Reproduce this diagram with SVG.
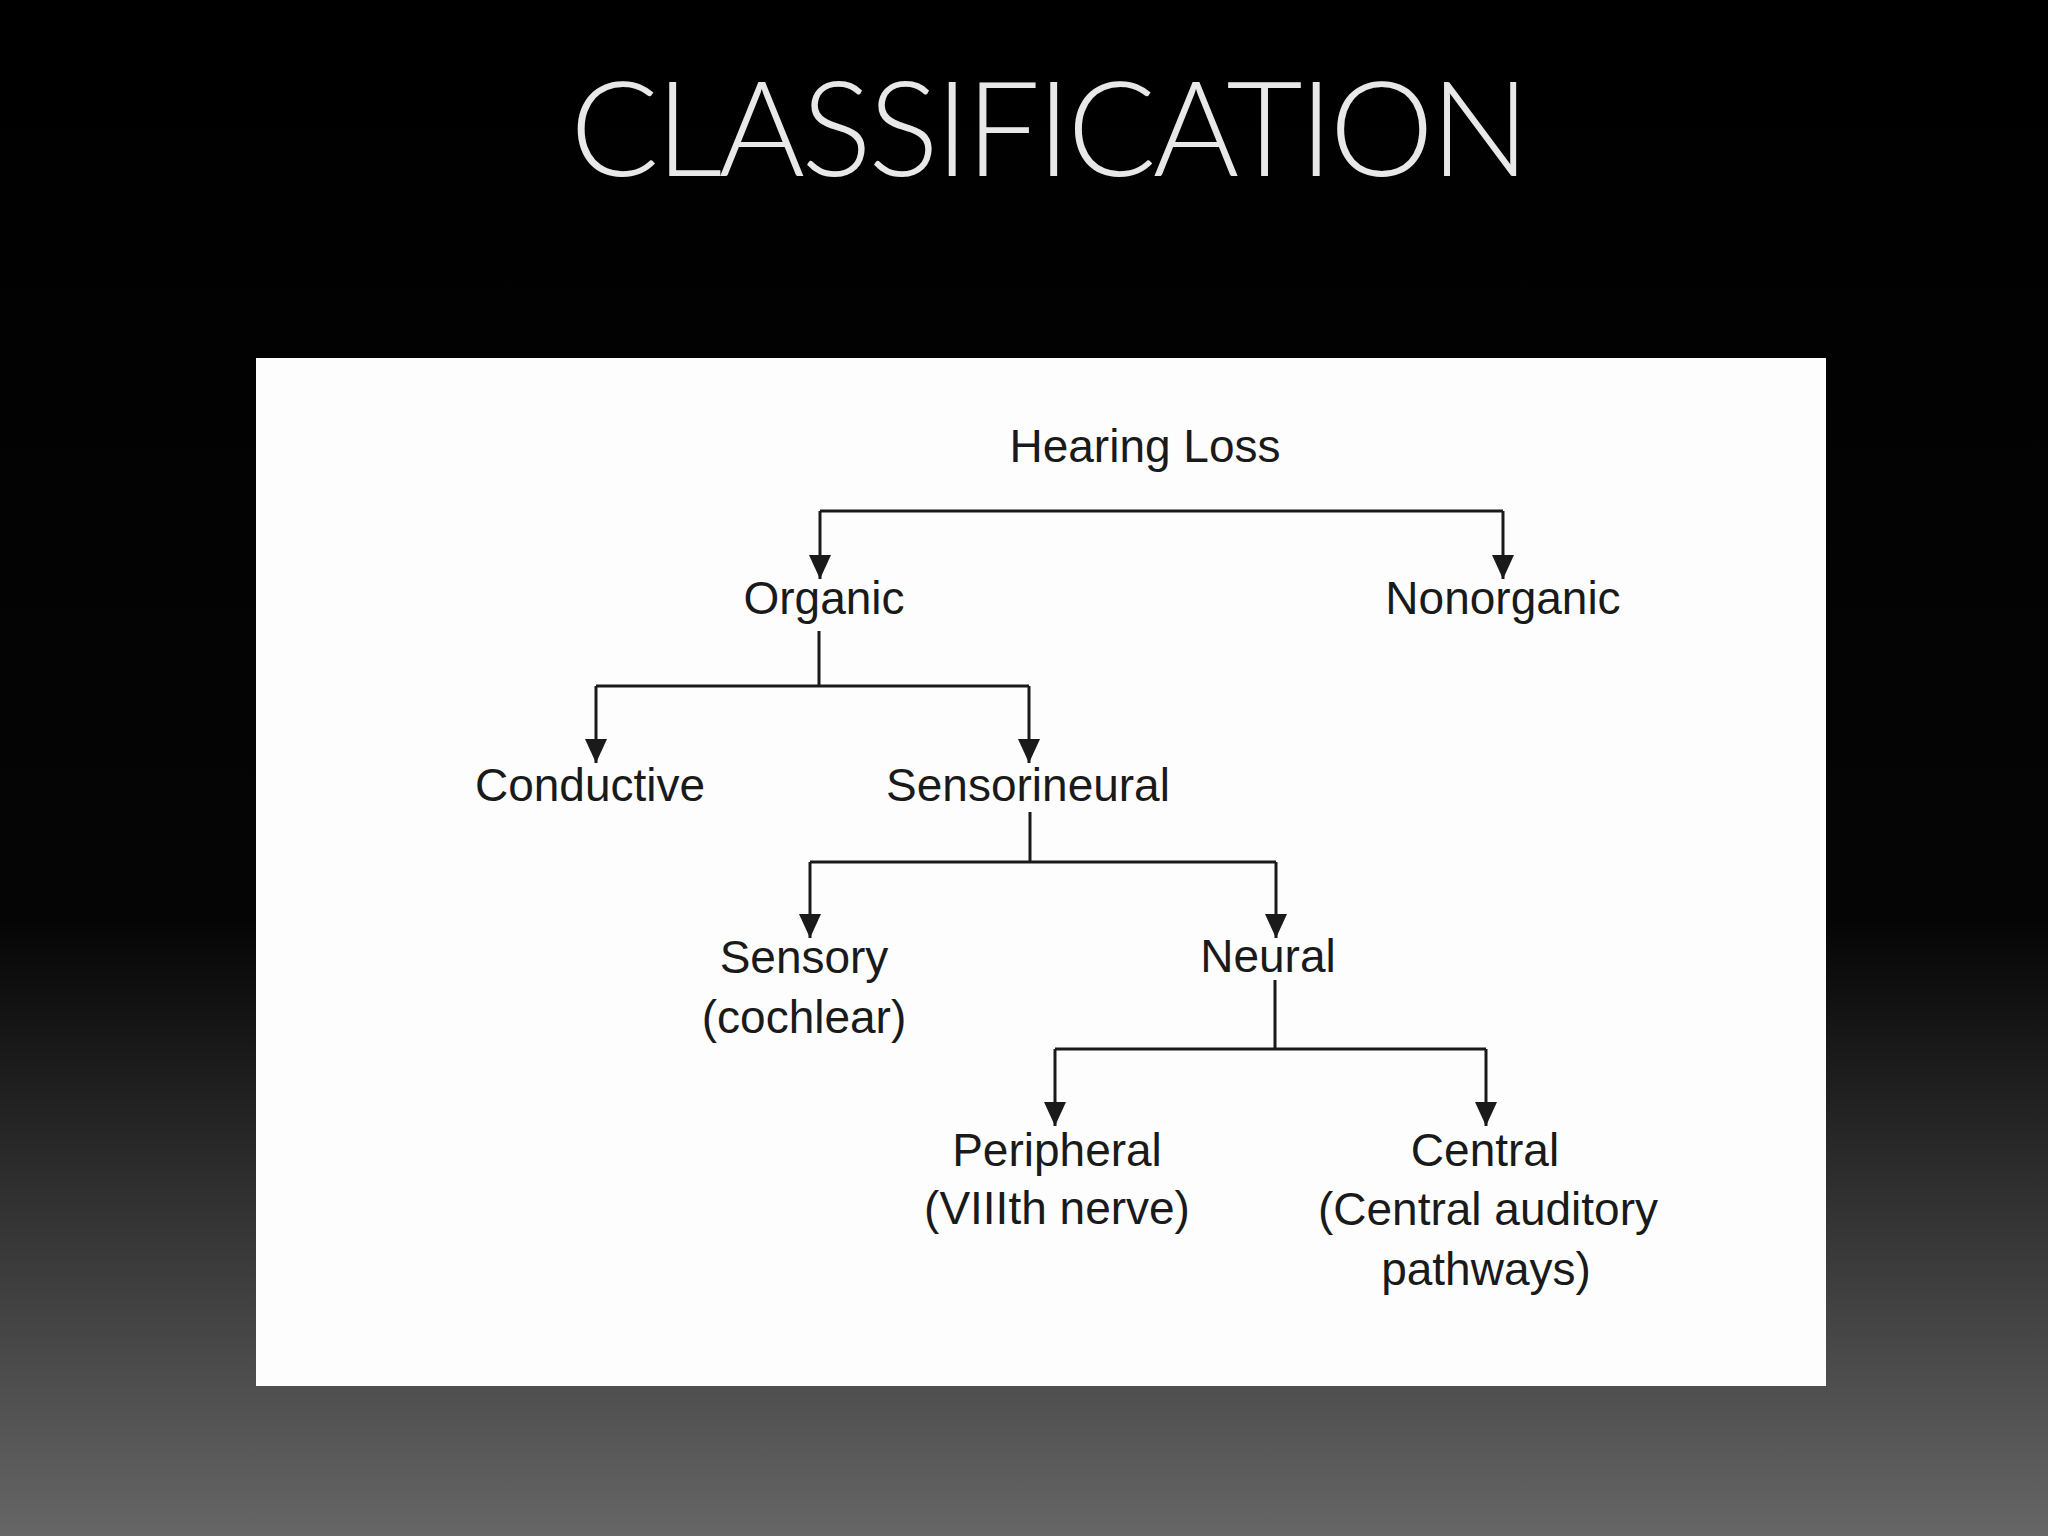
<svg xmlns="http://www.w3.org/2000/svg" width="2048" height="1536" viewBox="0 0 2048 1536">
<defs>
<linearGradient id="bg" x1="0" y1="0" x2="0" y2="1">
<stop offset="0" stop-color="#000"/><stop offset="0.6" stop-color="#050505"/><stop offset="1" stop-color="#666"/>
</linearGradient>
<marker id="ah" viewBox="0 0 24 22" refX="24" refY="11" markerWidth="24" markerHeight="22" markerUnits="userSpaceOnUse" orient="auto">
<path d="M0,0 L24,11 L0,22 Z" fill="#1a1a1a"/>
</marker>
</defs>
<style>
.t{font-family:"Liberation Sans",Arial,sans-serif;font-size:46px;fill:#1a1a1a;text-anchor:middle}
.c{fill:none;stroke:#1a1a1a;stroke-width:3}
.a{marker-end:url(#ah)}
</style>
<rect width="2048" height="1536" fill="url(#bg)"/>
<text x="1050" y="176" font-family="Lato,'Open Sans',sans-serif" font-weight="300" font-size="132" fill="#e8e8e8" text-anchor="middle" textLength="960">CLASSIFICATION</text>
<rect x="256" y="358" width="1570" height="1028" fill="#fdfdfd"/>
<g id="connectors">
<path class="c" d="M820,511 H1503"/>
<path class="c a" d="M820,511 V579"/>
<path class="c a" d="M1503,511 V579"/>
<path class="c" d="M819,631 V686 M596,686 H1029"/>
<path class="c a" d="M596,686 V763"/>
<path class="c a" d="M1029,686 V763"/>
<path class="c" d="M1030,812 V862 M810,862 H1276"/>
<path class="c a" d="M810,862 V938"/>
<path class="c a" d="M1276,862 V938"/>
<path class="c" d="M1275,980 V1049 M1055,1049 H1486"/>
<path class="c a" d="M1055,1049 V1126"/>
<path class="c a" d="M1486,1049 V1126"/>
</g>
<g id="hearing-loss"><text class="t" x="1145" y="462">Hearing Loss</text></g>
<g id="organic"><text class="t" x="824" y="614">Organic</text></g>
<g id="nonorganic"><text class="t" x="1503" y="614">Nonorganic</text></g>
<g id="conductive"><text class="t" x="590" y="801">Conductive</text></g>
<g id="sensorineural"><text class="t" x="1028" y="801">Sensorineural</text></g>
<g id="sensory"><text class="t" x="804" y="973">Sensory</text><text class="t" x="804" y="1033">(cochlear)</text></g>
<g id="neural"><text class="t" x="1268" y="972">Neural</text></g>
<g id="peripheral"><text class="t" x="1057" y="1166">Peripheral</text><text class="t" x="1057" y="1224">(VIIIth nerve)</text></g>
<g id="central"><text class="t" x="1485" y="1166">Central</text><text class="t" x="1488" y="1225">(Central auditory</text><text class="t" x="1486" y="1285">pathways)</text></g>
</svg>
